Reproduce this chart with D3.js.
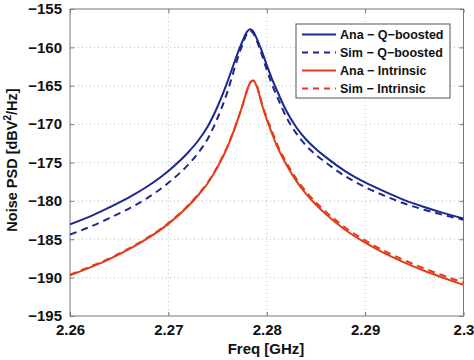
<!DOCTYPE html>
<html><head><meta charset="utf-8">
<script src="https://cdn.jsdelivr.net/npm/d3@7"></script>
<style>body{margin:0;background:#fff}svg{display:block}</style>
</head><body>
<svg id="c" width="474" height="360"></svg>
<script>
const freq = [2.260,2.262,2.264,2.266,2.268,2.270,2.272,2.273,2.274,2.275,2.276,2.2765,2.277,2.2775,2.278,2.2783,2.2786,2.279,2.2795,2.280,2.2805,2.281,2.282,2.283,2.284,2.285,2.286,2.288,2.290,2.292,2.294,2.296,2.298,2.300];
const anaQ = [-183.05,-182.05,-180.85,-179.55,-178.0,-176.1,-173.7,-172.2,-170.3,-167.7,-164.5,-162.7,-160.9,-159.3,-157.95,-157.65,-157.9,-158.9,-160.5,-162.3,-164.0,-165.5,-168.3,-170.4,-172.0,-173.25,-174.3,-176.15,-177.6,-178.8,-179.9,-180.8,-181.6,-182.3];
const simQ = [-184.4,-183.4,-182.25,-181.0,-179.5,-177.65,-175.3,-173.8,-171.9,-169.2,-165.8,-163.7,-161.6,-159.75,-158.2,-157.85,-158.1,-159.2,-160.95,-162.9,-164.7,-166.25,-169.1,-171.2,-172.8,-174.0,-175.0,-176.8,-178.2,-179.35,-180.35,-181.15,-181.85,-182.45];
const anaI = [-189.7,-188.7,-187.6,-186.3,-184.8,-183.0,-180.7,-179.3,-177.7,-175.6,-173.0,-171.4,-169.6,-167.7,-165.6,-164.6,-164.3,-165.1,-167.4,-169.4,-171.1,-172.75,-175.3,-177.4,-179.1,-180.5,-181.7,-183.8,-185.45,-186.85,-188.05,-189.1,-190.05,-190.95];
const simI = [-189.6,-188.6,-187.5,-186.2,-184.7,-182.9,-180.6,-179.2,-177.6,-175.5,-172.9,-171.35,-169.6,-167.7,-165.6,-164.6,-164.3,-165.05,-167.25,-169.2,-170.8,-172.45,-175.0,-177.1,-178.8,-180.2,-181.4,-183.5,-185.15,-186.55,-187.75,-188.8,-189.75,-190.65];
const xTicks = [2.26,2.27,2.28,2.29,2.3];
const xTickLabels = ["2.26","2.27","2.28","2.29","2.3"];
const yTicks = [-195,-190,-185,-180,-175,-170,-165,-160,-155];
const seriesNames = ["Ana \u2212 Q\u2212boosted","Sim \u2212 Q\u2212boosted","Ana \u2212 Intrinsic","Sim \u2212 Intrinsic"];

const blue = "#1b2a8c", red = "#e23c1a";
const series = [
  {name: seriesNames[0], values: anaQ, color: blue, dash: null},
  {name: seriesNames[1], values: simQ, color: blue, dash: "7,5"},
  {name: seriesNames[2], values: anaI, color: red, dash: null},
  {name: seriesNames[3], values: simI, color: red, dash: "7,5"}
];

const svg = d3.select("#c");
const L = 70, R = 463.5, T = 9, B = 316;
const x = d3.scaleLinear().domain([2.26, 2.3]).range([L, R]);
const y = d3.scaleLinear().domain([-195, -155]).range([B, T]);
const font = "'Liberation Sans', Arial, Helvetica, sans-serif";

// grid
const g = svg.append("g");
g.selectAll(".gx").data(xTicks.slice(1, -1)).enter().append("line")
  .attr("x1", d => x(d)).attr("x2", d => x(d)).attr("y1", T).attr("y2", B)
  .attr("stroke", "#bbb").attr("stroke-width", 1).attr("stroke-dasharray", "1,3");
g.selectAll(".gy").data(yTicks.slice(1, -1)).enter().append("line")
  .attr("x1", L).attr("x2", R).attr("y1", d => y(d)).attr("y2", d => y(d))
  .attr("stroke", "#bbb").attr("stroke-width", 1).attr("stroke-dasharray", "1,3");

// axes
const axB = d3.axisBottom(x).tickValues(xTicks).tickFormat((d, i) => xTickLabels[i]).tickSizeInner(-4).tickSizeOuter(0).tickPadding(8);
const axL = d3.axisLeft(y).tickValues(yTicks).tickFormat(d => d3.format("d")(d).replace("-", "\u2212")).tickSizeInner(-4).tickSizeOuter(0).tickPadding(8);
const axT = d3.axisTop(x).tickValues(xTicks).tickFormat("").tickSizeInner(-4).tickSizeOuter(0);
const axR = d3.axisRight(y).tickValues(yTicks).tickFormat("").tickSizeInner(-4).tickSizeOuter(0);
function style(sel) {
  sel.select(".domain").remove();
  sel.selectAll("line").attr("stroke", "#777");
  sel.selectAll("text").attr("fill", "#111").style("font-family", font).style("font-weight", "bold").style("font-size", "15px");
}
svg.append("g").attr("transform", `translate(0,${B})`).call(axB).call(style);
svg.append("g").attr("transform", `translate(${L},0)`).call(axL).call(style);
svg.append("g").attr("transform", `translate(0,${T})`).call(axT).call(style);
svg.append("g").attr("transform", `translate(${R},0)`).call(axR).call(style);
svg.append("rect").attr("x", L).attr("y", T).attr("width", R - L).attr("height", B - T)
  .attr("fill", "none").attr("stroke", "#777").attr("stroke-width", 1);

// lines
const line = d3.line().x((d, i) => x(freq[i])).y(d => y(d)).curve(d3.curveMonotoneX);
svg.append("clipPath").attr("id", "clp").append("rect").attr("x", L).attr("y", T).attr("width", R - L).attr("height", B - T);
svg.append("g").attr("clip-path", "url(#clp)").selectAll("path").data(series).enter().append("path")
  .attr("d", d => line(d.values)).attr("fill", "none").attr("stroke", d => d.color)
  .attr("stroke-width", 2).attr("stroke-dasharray", d => d.dash);

// legend
const lg = svg.append("g");
lg.append("rect").attr("x", 296).attr("y", 24).attr("width", 154).attr("height", 74)
  .attr("fill", "#fff").attr("stroke", "#555").attr("stroke-width", 1);
series.forEach((s, i) => {
  const yy = 34.5 + i * 18;
  lg.append("line").attr("x1", 302).attr("x2", 336).attr("y1", yy).attr("y2", yy)
    .attr("stroke", s.color).attr("stroke-width", 2).attr("stroke-dasharray", s.dash ? "6,5" : null);
  lg.append("text").attr("x", 340).attr("y", yy + 4.5).text(s.name)
    .style("font-family", font).style("font-weight", "bold").style("font-size", "12.5px").attr("fill", "#111");
});

// axis labels
svg.append("text").attr("x", 266).attr("y", 354).attr("text-anchor", "middle")
  .style("font-family", font).style("font-weight", "bold").style("font-size", "15px").attr("fill", "#111").text("Freq [GHz]");
const yl = svg.append("text").attr("transform", "translate(17,160) rotate(-90)").attr("text-anchor", "middle")
  .style("font-family", font).style("font-weight", "bold").style("font-size", "14.5px").attr("fill", "#111");
yl.append("tspan").text("Noise PSD [dBV");
yl.append("tspan").attr("dy", -6).style("font-size", "10px").text("2");
yl.append("tspan").attr("dy", 6).text("/Hz]");
</script>
</body></html>
